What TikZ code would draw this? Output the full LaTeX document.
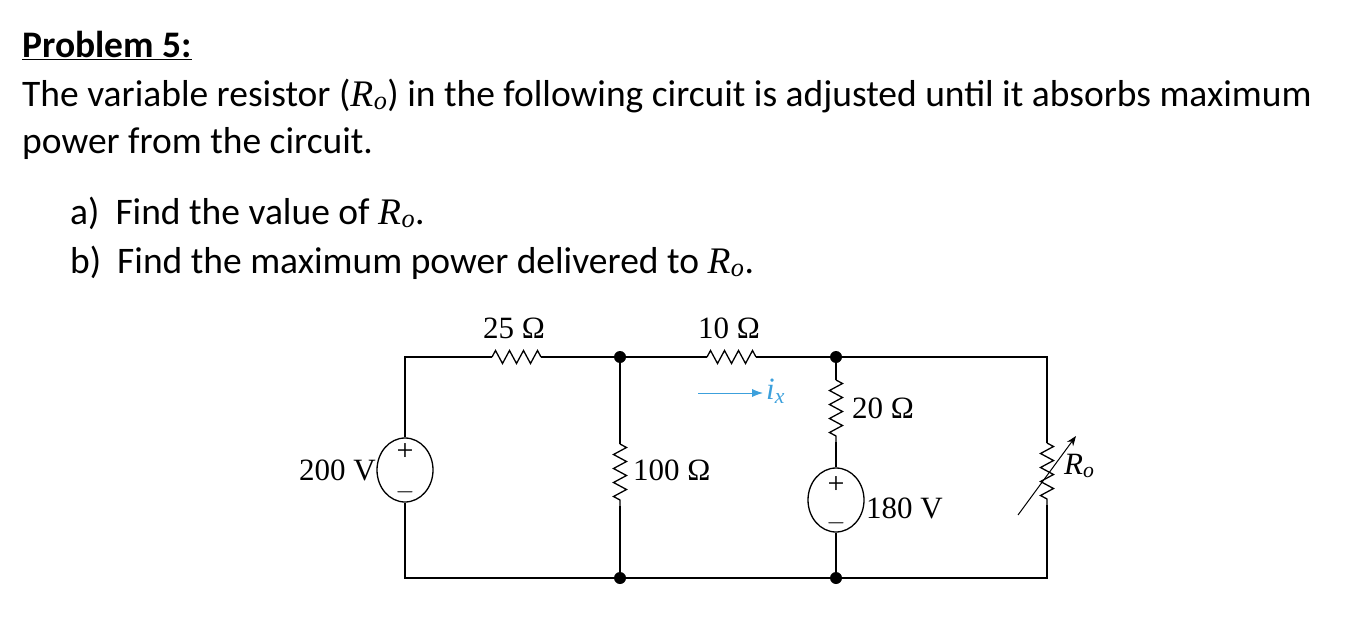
\documentclass[tikz,border=0pt]{standalone}
\usepackage{fontspec}
\setmainfont{Carlito}
\newfontfamily\tms{Liberation Serif}
\newcommand{\Ro}{{\tms\itshape R\kern0.5pt\textsubscript{o}}}
\usetikzlibrary{shapes.geometric,decorations.pathmorphing,arrows.meta}
\begin{document}
\begin{tikzpicture}[x=1pt,y=-1pt,
  txt/.style={anchor=base west,inner sep=0,font=\fontsize{37.5}{40}\selectfont},
  lbl/.style={inner sep=0,font=\tms\fontsize{31}{34}\selectfont},
  pm/.style={inner sep=0,font=\tms\fontsize{30}{30}\selectfont},
  w/.style={line width=1.3pt},
  res/.style={w,decorate,decoration={zigzag,segment length=14,amplitude=6.5}},
  dot/.style={circle,fill=black,inner sep=0,minimum size=12pt},
  src/.style={ellipse,draw,line width=1.3pt,minimum width=56pt,minimum height=64pt,inner sep=0}]
\useasboundingbox (0,0) rectangle (1354,618);
\node[txt,font=\bfseries\fontsize{37.5}{40}\selectfont] (p) at (22,58) {\underline{Problem 5:}};
\node[txt] (l1) at (22,106) {The variable resistor (\Ro) in the following circuit is adjusted until it absorbs maximum};
\node[txt] (l2) at (22,153) {power from the circuit.};
\node[txt] (a) at (70,224) {a)\hspace{16pt}Find the value of \Ro.};
\node[txt] (b) at (70,273) {b)\hspace{16pt}Find the maximum power delivered to \Ro.};
% nodes
\coordinate (tl) at (405,357);
\node[dot] (n1) at (620,357) {};
\node[dot] (n2) at (836,357) {};
\coordinate (tr) at (1047,357);
\coordinate (bl) at (405,578);
\node[dot] (m1) at (620,578) {};
\node[dot] (m2) at (836,578) {};
\coordinate (br) at (1047,578);
\node[src] (v1) at (405,470) {};
\node[src] (v2) at (836,500) {};
\node[pm] at (405,452) {+};
\node[pm] at (405,492) {$-$};
\node[pm] at (836,485) {+};
\node[pm] at (836,523) {$-$};
\coordinate (r1a) at (492,357); \coordinate (r1b) at (541,357);
\coordinate (r2a) at (707,357); \coordinate (r2b) at (756,357);
\coordinate (r3a) at (620,444); \coordinate (r3b) at (620,506);
\coordinate (r4a) at (836,380); \coordinate (r4b) at (836,442);
\coordinate (r5a) at (1047,443); \coordinate (r5b) at (1047,505);
% wires
\draw[w] (v1.north) -- (tl) -- (r1a);
\draw[res] (r1a) -- (r1b);
\draw[w] (r1b) -- (n1) -- (r2a);
\draw[res] (r2a) -- (r2b);
\draw[w] (r2b) -- (n2) -- (tr) -- (r5a);
\draw[res] (r5a) -- (r5b);
\draw[w] (r5b) -- (br) -- (m2) -- (m1) -- (bl) -- (v1.south);
\draw[w] (n1) -- (r3a); \draw[res] (r3a) -- (r3b); \draw[w] (r3b) -- (m1);
\draw[w] (n2) -- (r4a); \draw[res] (r4a) -- (r4b); \draw[w] (r4b) -- (v2.north);
\draw[w] (v2.south) -- (m2);
% variable arrow
\coordinate (ra) at (1018,515); \coordinate (rb) at (1076,436);
\draw[line width=1pt,-{Stealth[length=10pt]}] (ra) -- (rb);
% ix
\coordinate (ix1) at (698,393); \coordinate (ix2) at (763,393);
\draw[line width=1pt,color={rgb,255:red,60;green,160;blue,220},-{Latex[length=11pt]}] (ix1) -- (ix2);
% labels
\node[lbl] at (514,328) {25 Ω};
\node[lbl] at (729,328) {10 Ω};
\node[lbl,anchor=west] at (852,408) {20 Ω};
\node[lbl,anchor=west] at (633,470) {100 Ω};
\node[lbl,anchor=east] at (376,470) {200 V};
\node[lbl,anchor=west] at (866,508) {180 V};
\node[lbl,anchor=west,font=\tms\itshape\fontsize{31}{34}\selectfont] at (1064,466) {R\textsubscript{\itshape o}};
\node[lbl,anchor=west,text={rgb,255:red,60;green,160;blue,220},font=\tms\itshape\fontsize{31}{34}\selectfont] at (766,391) {i\textsubscript{\itshape x}};
\end{tikzpicture}
\end{document}
